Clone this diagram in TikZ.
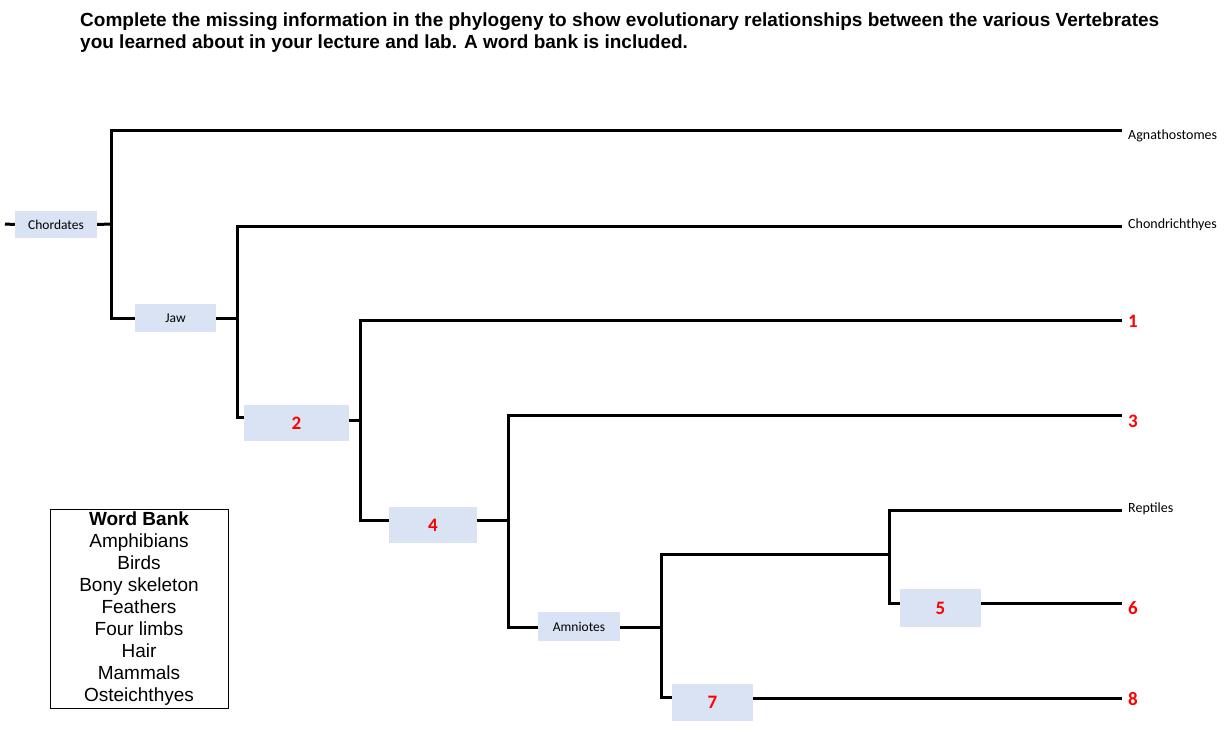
\documentclass[tikz,border=0pt]{standalone}
\usepackage{fontspec}
\setmainfont{Liberation Sans}
\newfontfamily\calfont{Carlito}
\begin{document}
\begin{tikzpicture}[x=1pt,y=-1pt,
  ln/.style={line width=3pt},
  bx/.style={fill={rgb,255:red,218;green,227;blue,243},draw=none,inner sep=0pt,font=\calfont\fontsize{13.5}{15}\selectfont},
  rd/.style={text={rgb,255:red,255;green,0;blue,0},font=\calfont\bfseries\fontsize{19}{21}\selectfont},
  lb/.style={anchor=west,font=\calfont\fontsize{14}{16}\selectfont,inner sep=0pt}]
\useasboundingbox (0,0) rectangle (1231,733);
\node[anchor=north west,align=left,font=\bfseries\fontsize{19}{22}\selectfont,inner sep=0pt] (title) at (80,13)
 {Complete the missing information in the phylogeny to show evolutionary relationships between the various Vertebrates\\you learned about in your lecture and lab. A word bank is included.};
% boxes
\node[bx,minimum width=82pt,minimum height=27pt] (ch) at (56,224.5) {Chordates};
\node[bx,minimum width=81pt,minimum height=28pt] (jaw) at (175.5,318) {Jaw};
\node[bx,minimum width=105pt,minimum height=36pt,rd] (b2) at (296.5,423) {2};
\node[bx,minimum width=88pt,minimum height=36pt,rd] (b4) at (433,525) {4};
\node[bx,minimum width=82pt,minimum height=29pt] (am) at (579,626.5) {Amniotes};
\node[bx,minimum width=81pt,minimum height=38pt,rd] (b5) at (940.5,608) {5};
\node[bx,minimum width=81pt,minimum height=37pt,rd] (b7) at (712.5,702.5) {7};
% tips
\coordinate (t0) at (1122,131); \coordinate (t1) at (1122,226); \coordinate (t2) at (1122,320);
\coordinate (t3) at (1122,415); \coordinate (t4) at (1122,510); \coordinate (t5) at (1122,603);
\coordinate (t6) at (1122,698);
\node[lb] (l0) at (1128,136) {Agnathostomes};
\node[lb] (l1) at (1128,225) {Chondrichthyes};
\node[rd,anchor=west,inner sep=0pt] (l2) at (1128,321) {1};
\node[rd,anchor=west,inner sep=0pt] (l3) at (1128,421) {3};
\node[lb] (l4) at (1128,509) {Reptiles};
\node[rd,anchor=west,inner sep=0pt] (l5) at (1128,608) {6};
\node[rd,anchor=west,inner sep=0pt] (l6) at (1128,699) {8};
% tree
\coordinate (r) at (5,224);
\draw[ln] (r) -- (ch.west);
\draw[ln] (ch.east) -- (111,224);
\draw[ln] (111,131) -- (t0);
\draw[ln] (111,129.5) -- (111,319.5);
\draw[ln] (111,318) -- (jaw.west);
\draw[ln] (jaw.east) -- (237,318);
\draw[ln] (237,224.5) -- (237,418.5);
\draw[ln] (237,226) -- (t1);
\draw[ln] (237,417) -- (244,417);
\draw[ln] (b2.east|-0,420) -- (360,420);
\draw[ln] (360,318.5) -- (360,521.5);
\draw[ln] (360,320) -- (t2);
\draw[ln] (360,520) -- (b4.west|-0,520);
\draw[ln] (b4.east|-0,520) -- (508,520);
\draw[ln] (508,413.5) -- (508,628.5);
\draw[ln] (508,415) -- (t3);
\draw[ln] (508,627) -- (am.west|-0,627);
\draw[ln] (am.east|-0,627) -- (661,627);
\draw[ln] (661,552.5) -- (661,698.5);
\draw[ln] (661,554) -- (889,554);
\draw[ln] (889,508.5) -- (889,604.5);
\draw[ln] (889,510) -- (t4);
\draw[ln] (889,603) -- (b5.west|-0,603);
\draw[ln] (b5.east|-0,603) -- (t5);
\draw[ln] (661,697) -- (b7.west|-0,697);
\draw[ln] (b7.east|-0,698) -- (t6);
% word bank
\node[draw,line width=0.8pt,minimum width=178pt,minimum height=199pt,inner sep=0pt] (wb) at (139,608.5) {};
\node[align=center,font=\fontsize{19}{22}\selectfont,anchor=north,inner sep=0pt] (wbt) at (139,512)
{\textbf{Word Bank}\\Amphibians\\Birds\\Bony skeleton\\Feathers\\Four limbs\\Hair\\Mammals\\Osteichthyes};
\end{tikzpicture}
\end{document}
